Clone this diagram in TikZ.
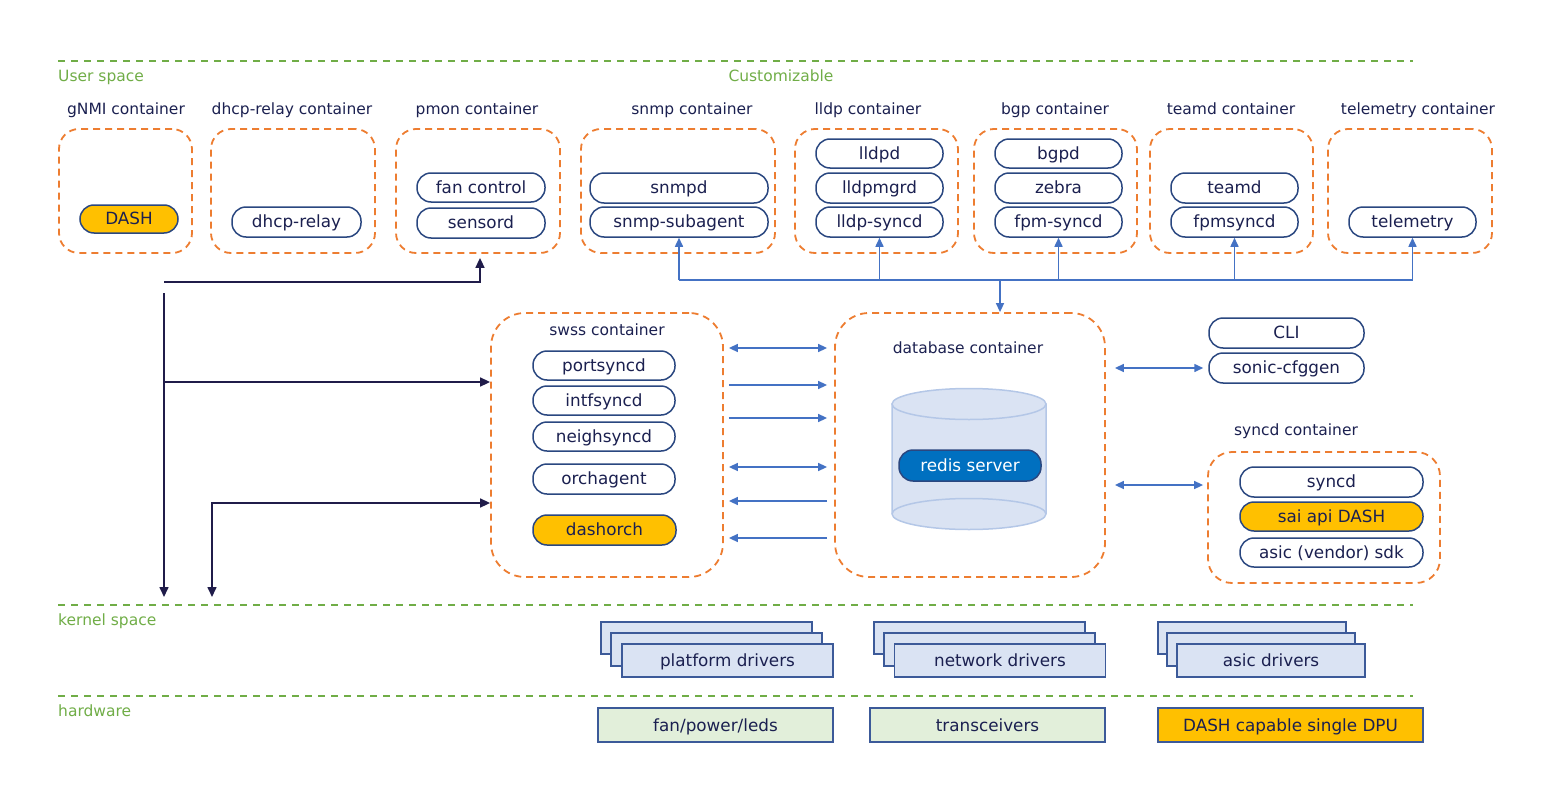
\documentclass[tikz,border=0pt]{standalone}
\usepackage{fontspec}
\setmainfont{DejaVu Sans}
\usetikzlibrary{arrows.meta,calc}
\definecolor{orng}{HTML}{ED7D31}
\definecolor{grn}{HTML}{70AD47}
\definecolor{barw}{HTML}{4472C4}
\definecolor{pillb}{HTML}{2A4780}
\definecolor{navyt}{HTML}{1B2050}
\definecolor{navyl}{HTML}{201C4A}
\definecolor{yel}{HTML}{FFC000}
\definecolor{lblue}{HTML}{DAE3F3}
\definecolor{drvb}{HTML}{3C5A99}
\definecolor{lgreen}{HTML}{E2EFDA}
\definecolor{cylb}{HTML}{B4C7E7}
\definecolor{redis}{HTML}{0070C0}
\begin{document}
\begin{tikzpicture}[x=1pt,y=-1pt,
  cont/.style={draw=orng, line width=1.8pt, dash pattern=on 7pt off 5pt, rounded corners=20pt, inner sep=0pt},
  bigcont/.style={cont, rounded corners=34pt},
  pill/.style={draw=pillb, line width=1.5pt, rounded corners=14pt, fill=white, text=navyt, inner sep=0pt,
    font=\fontsize{16.8}{18}\selectfont, text height=11.5pt, text depth=0pt},
  ypill/.style={pill, fill=yel},
  lbl/.style={text=navyt, inner sep=0pt, font=\fontsize{15.5}{17}\selectfont, text height=11pt, text depth=0pt},
  glbl/.style={lbl, text=grn},
  gline/.style={draw=grn, line width=1.6pt, dash pattern=on 7pt off 6pt},
  barrow/.style={draw=barw, line width=1.5pt, -{Triangle[length=9pt,width=8pt]}},
  narrow/.style={draw=navyl, line width=1.6pt, -{Triangle[length=10pt,width=9pt]}},
  drv/.style={draw=drvb, fill=lblue, line width=1.5pt, inner sep=0pt, minimum height=33pt, text=navyt,
    font=\fontsize{16.8}{18}\selectfont, text height=12pt, text depth=0pt},
  hw/.style={draw=drvb, fill=lgreen, line width=1.5pt, inner sep=0pt, minimum height=34pt, text=navyt,
    font=\fontsize{16.8}{18}\selectfont, text height=12pt, text depth=0pt}
]
\useasboundingbox (0,0) rectangle (1550,808);

% layer lines and labels
\draw[gline] (58,61) -- (1413,61);
\draw[gline] (58,605) -- (1413,605);
\draw[gline] (58,696) -- (1413,696);
\node[glbl, anchor=west] (us) at (58,76) {User space};
\node[glbl] (cust) at (781,76) {Customizable};
\node[glbl, anchor=west] (ks) at (58,620) {kernel space};
\node[glbl, anchor=west] (hwl) at (58,711) {hardware};

% top containers
\node[cont, minimum width=133, minimum height=124] (gnmi) at (125.5,191) {};
\node[cont, minimum width=164, minimum height=124] (dhcp) at (293,191) {};
\node[cont, minimum width=164, minimum height=124] (pmon) at (478,191) {};
\node[cont, minimum width=194, minimum height=124] (snmp) at (678,191) {};
\node[cont, minimum width=163, minimum height=124] (lldp) at (876.5,191) {};
\node[cont, minimum width=163, minimum height=124] (bgp) at (1055.5,191) {};
\node[cont, minimum width=163, minimum height=124] (teamd) at (1231.5,191) {};
\node[cont, minimum width=164, minimum height=124] (tele) at (1410,191) {};

\node[lbl] (gnmil) at (126,109) {gNMI container};
\node[lbl] (dhcpl) at (292,109) {dhcp-relay container};
\node[lbl] (pmonl) at (477,109) {pmon container};
\node[lbl] (snmpl) at (692,109) {snmp container};
\node[lbl] (lldpl) at (868,109) {lldp container};
\node[lbl] (bgpl) at (1055,109) {bgp container};
\node[lbl] (teamdl) at (1231,109) {teamd container};
\node[lbl] (telel) at (1418,109) {telemetry container};

% pills in top containers
\node[ypill, minimum width=98, minimum height=28] (dash) at (129,219) {DASH};
\node[pill, minimum width=129, minimum height=30] (dhcpr) at (296.5,222) {dhcp-relay};
\node[pill, minimum width=128, minimum height=29] (fan) at (481,187.5) {fan control};
\node[pill, minimum width=128, minimum height=30] (sensord) at (481,223) {sensord};
\node[pill, minimum width=178, minimum height=30] (snmpd) at (679,188) {snmpd};
\node[pill, minimum width=178, minimum height=30] (snmpsub) at (679,222) {snmp-subagent};
\node[pill, minimum width=127, minimum height=29] (lldpd) at (879.5,153.5) {lldpd};
\node[pill, minimum width=127, minimum height=30] (lldpmgrd) at (879.5,188) {lldpmgrd};
\node[pill, minimum width=127, minimum height=30] (lldpsyncd) at (879.5,222) {lldp-syncd};
\node[pill, minimum width=127, minimum height=29] (bgpd) at (1058.5,153.5) {bgpd};
\node[pill, minimum width=127, minimum height=30] (zebra) at (1058.5,188) {zebra};
\node[pill, minimum width=127, minimum height=30] (fpmsync) at (1058.5,222) {fpm-syncd};
\node[pill, minimum width=127, minimum height=30] (teamdp) at (1234.5,188) {teamd};
\node[pill, minimum width=127, minimum height=30] (fpmsyncd) at (1234.5,222) {fpmsyncd};
\node[pill, minimum width=127, minimum height=30] (telep) at (1412.5,222) {telemetry};

% swss container
\node[bigcont, minimum width=232, minimum height=264] (swss) at (607,445) {};
\node[lbl] (swssl) at (607,330) {swss container};
\node[pill, minimum width=142, minimum height=29] (portsyncd) at (604,365.5) {portsyncd};
\node[pill, minimum width=142, minimum height=29] (intfsyncd) at (604,400.5) {intfsyncd};
\node[pill, minimum width=142, minimum height=29] (neighsyncd) at (604,436.5) {neighsyncd};
\node[pill, minimum width=142, minimum height=30] (orchagent) at (604,479) {orchagent};
\node[ypill, minimum width=143, minimum height=30] (dashorch) at (604.5,530) {dashorch};

% database container
\node[bigcont, minimum width=270, minimum height=264] (db) at (970,445) {};
\node[lbl] (dbl) at (968,348) {database container};
\filldraw[draw=cylb, fill=lblue, line width=1.5pt]
  (892,404) -- (892,514) arc[start angle=180, end angle=0, x radius=77, y radius=15.5] -- (1046,404) -- cycle;
\draw[draw=cylb, line width=1.5pt] (892,514) arc[start angle=180, end angle=360, x radius=77, y radius=15.5];
\filldraw[draw=cylb, fill=lblue, line width=1.5pt] (969,404) ellipse[x radius=77, y radius=15.5];
\node[pill, fill=redis, draw=pillb, text=white, minimum width=142, minimum height=31] (redisp) at (970,465.5) {redis server};

% CLI
\node[pill, minimum width=155, minimum height=30] (cli) at (1286.5,333) {CLI};
\node[pill, minimum width=155, minimum height=30] (cfggen) at (1286.5,368) {sonic-cfggen};

% syncd container
\node[cont, rounded corners=24pt, minimum width=232, minimum height=131] (syncd) at (1324,517.5) {};
\node[lbl] (syncdl) at (1296,430) {syncd container};
\node[pill, minimum width=183, minimum height=30] (syncdp) at (1331.5,482) {syncd};
\node[ypill, minimum width=183, minimum height=29] (saidash) at (1331.5,516.5) {sai api DASH};
\node[pill, minimum width=183, minimum height=29] (asicsdk) at (1331.5,552.5) {asic (vendor) sdk};

% kernel drivers
\node[drv, minimum width=211, minimum height=32] (pdrv3) at (706.5,638) {};
\node[drv, minimum width=211] (pdrv2) at (716.5,649.5) {};
\node[drv, minimum width=211] (pdrv) at (727.5,660.5) {platform drivers};
\node[drv, minimum width=211, minimum height=32] (ndrv3) at (979.5,638) {};
\node[drv, minimum width=211] (ndrv2) at (989.5,649.5) {};
\node[drv, minimum width=211] (ndrv) at (1000,660.5) {network drivers};
\node[drv, minimum width=188, minimum height=32] (adrv3) at (1252,638) {};
\node[drv, minimum width=188] (adrv2) at (1261,649.5) {};
\node[drv, minimum width=188] (adrv) at (1271,660.5) {asic drivers};

% hardware
\node[hw, minimum width=235] (fanhw) at (715.5,725) {fan/power/leds};
\node[hw, minimum width=235] (trans) at (987.5,725) {transceivers};
\node[hw, fill=yel, minimum width=265] (dpu) at (1290.5,725) {DASH capable single DPU};

% blue bus
\coordinate (busD) at (1000,280);
\draw[draw=barw, line width=1.5pt] (snmpsub.south |- busD) -- (telep.south |- busD);
\draw[barrow] (snmpsub.south |- busD) -- (snmpsub.south);
\draw[barrow] (lldpsyncd.south |- busD) -- (lldpsyncd.south);
\draw[barrow] (fpmsync.south |- busD) -- (fpmsync.south);
\draw[barrow] (fpmsyncd.south |- busD) -- (fpmsyncd.south);
\draw[barrow] (telep.south |- busD) -- (telep.south);
\draw[barrow] (busD) -- (busD |- db.north);

% swss <-> database arrows
\draw[barrow, {Triangle[length=9pt,width=8pt]}-{Triangle[length=9pt,width=8pt]}, shorten <=5pt, shorten >=7pt] (swss.east |- 0,348) -- (db.west |- 0,348);
\draw[barrow, shorten <=5pt, shorten >=7pt] (swss.east |- 0,385) -- (db.west |- 0,385);
\draw[barrow, shorten <=5pt, shorten >=7pt] (swss.east |- 0,418) -- (db.west |- 0,418);
\draw[barrow, {Triangle[length=9pt,width=8pt]}-{Triangle[length=9pt,width=8pt]}, shorten <=5pt, shorten >=7pt] (swss.east |- 0,467) -- (db.west |- 0,467);
\draw[barrow, shorten <=7pt, shorten >=5pt] (db.west |- 0,501) -- (swss.east |- 0,501);
\draw[barrow, shorten <=7pt, shorten >=5pt] (db.west |- 0,538) -- (swss.east |- 0,538);

% database <-> CLI / syncd
\draw[barrow, {Triangle[length=9pt,width=8pt]}-{Triangle[length=9pt,width=8pt]}, shorten <=9pt, shorten >=5pt] (db.east |- cfggen.west) -- (cfggen.west);
\draw[barrow, {Triangle[length=9pt,width=8pt]}-{Triangle[length=9pt,width=8pt]}, shorten <=9pt, shorten >=4pt] (db.east |- 0,485) -- (syncd.west |- 0,485);

% navy arrows
\coordinate (navA) at (164,282);
\coordinate (navB) at (164,293);
\coordinate (navBend) at (164,597);
\coordinate (navC) at (164,382);
\coordinate (navD) at (212,597);
\draw[narrow, shorten >=4pt] (navA) -| ($(pmon.south)+(2,0)$);
\draw[narrow] (navB) -- (navBend);
\draw[narrow] (navC) -- (swss.west |- navC);
\draw[narrow, {Triangle[length=10pt,width=9pt]}-{Triangle[length=10pt,width=9pt]}] (navD) |- (swss.west |- 0,503);
\end{tikzpicture}
\end{document}
